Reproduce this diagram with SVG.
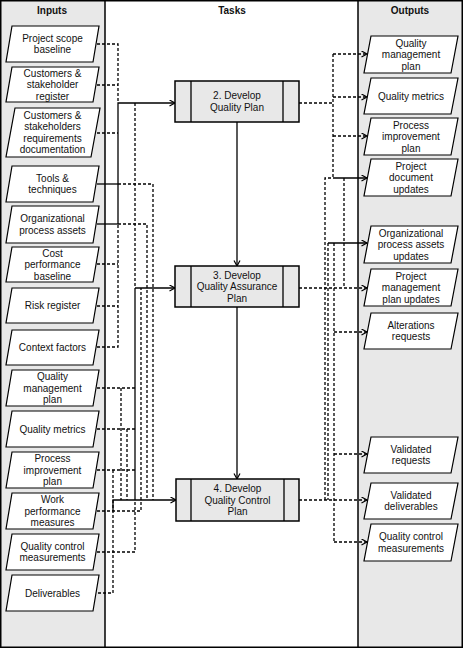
<svg xmlns="http://www.w3.org/2000/svg" width="463" height="648" viewBox="0 0 463 648">
<defs>
<style>
.lane{fill:#e8e8e8;stroke:none}
.sep{stroke:#000;stroke-width:1.5;fill:none}
.io{fill:#fff;stroke:#000;stroke-width:1.2}
.task{fill:#e8e8e8;stroke:#000;stroke-width:1.5}
.t{font-family:"Liberation Sans",Arial,sans-serif;font-size:10px;fill:#111;text-anchor:middle}
.h{font-family:"Liberation Sans",Arial,sans-serif;font-size:10px;font-weight:bold;fill:#111;text-anchor:middle}
.s{stroke:#000;stroke-width:1.3;fill:none}
.d{stroke:#000;stroke-width:1.3;fill:none;stroke-dasharray:3,2}
</style>
<marker id="arr" markerWidth="8" markerHeight="8" refX="6" refY="3.5" orient="auto" markerUnits="userSpaceOnUse">
<path d="M0.5,0.5 L6,3.5 L0.5,6.5" fill="none" stroke="#000" stroke-width="1.2"/>
</marker>
</defs>
<rect x="0" y="0" width="463" height="648" fill="#fff"/>
<rect class="lane" x="0" y="0" width="105" height="648"/>
<rect class="lane" x="358" y="0" width="105" height="648"/>
<rect x="0.75" y="0.75" width="461.5" height="646.5" class="sep"/>
<line class="sep" x1="105" y1="0" x2="105" y2="648"/>
<line class="sep" x1="358" y1="0" x2="358" y2="648"/>
<text class="h" x="52" y="14">Inputs</text>
<text class="h" x="232" y="14">Tasks</text>
<text class="h" x="410" y="14">Outputs</text>

<g id="connectors">
<!-- to task 2 -->
<path class="d" d="M97,44 H118 V103"/>
<path class="d" d="M97,85 H118"/>
<path class="d" d="M97,133 H118"/>
<path class="d" d="M97,264 H118"/>
<path class="d" d="M97,306 H118"/>
<path class="d" d="M97,347 H118 V224"/>
<path class="s" d="M97,184 H118"/>
<path class="s" d="M97,224 H118"/>
<path class="s" d="M118,224 V103 H175" marker-end="url(#arr)"/>
<!-- to task 3 / task 4 -->
<path class="d" d="M135,103 V288"/>
<path class="d" d="M118,184 H153 V500"/>
<path class="d" d="M118,224 H147 V500"/>
<path class="d" d="M97,388 H135"/>
<path class="d" d="M121,388 V500"/>
<path class="d" d="M97,429 H135"/>
<path class="d" d="M127,429 V500"/>
<path class="d" d="M97,470 H135"/>
<path class="d" d="M113,470 V593 H97"/>
<path class="d" d="M97,511 H141 V288"/>
<path class="d" d="M97,552 H135 V500"/>
<path class="s" d="M135,288 V500"/>
<path class="s" d="M135,288 H175" marker-end="url(#arr)"/>
<path class="s" d="M113,511 V500 H176" marker-end="url(#arr)"/>
<!-- vertical between tasks -->
<path class="s" d="M237,122 V266" marker-end="url(#arr)"/>
<path class="s" d="M237,307 V479" marker-end="url(#arr)"/>
<!-- outputs -->
<path class="d" d="M299,103 H333"/>
<path class="d" d="M333,54 V178"/>
<path class="d" d="M333,54 H367" marker-end="url(#arr)"/>
<path class="d" d="M333,97 H367" marker-end="url(#arr)"/>
<path class="d" d="M333,136 H367" marker-end="url(#arr)"/>
<path class="s" d="M333,178 H367" marker-end="url(#arr)"/>
<path class="d" d="M325,500 V178 H333"/>
<path class="d" d="M344,178 V288"/>
<path class="d" d="M299,288 H367" marker-end="url(#arr)"/>
<path class="s" d="M328,243 H367" marker-end="url(#arr)"/>
<path class="d" d="M328,243 V500"/>
<path class="d" d="M334,243 V542"/>
<path class="d" d="M334,332 H367" marker-end="url(#arr)"/>
<path class="d" d="M334,454 H367" marker-end="url(#arr)"/>
<path class="d" d="M299,500 H367" marker-end="url(#arr)"/>
<path class="d" d="M334,542 H367" marker-end="url(#arr)"/>
</g>

<!-- inputs -->
<g id="in-scope"><polygon class="io" points="12,26 99,26 93,62 6,62"/><text class="t" x="52.5" y="41.8">Project scope</text><text class="t" x="52.5" y="53.3">baseline</text></g>
<g id="in-register"><polygon class="io" points="12,67 99,67 93,102 6,102"/><text class="t" x="52.5" y="76.5">Customers &amp;</text><text class="t" x="52.5" y="88">stakeholder</text><text class="t" x="52.5" y="99.5">register</text></g>
<g id="in-requirements"><polygon class="io" points="15,108 100,108 91,157 6,157"/><text class="t" x="52.5" y="118.8">Customers &amp;</text><text class="t" x="52.5" y="130.3">stakeholders</text><text class="t" x="52.5" y="141.8">requirements</text><text class="t" x="52.5" y="153.3">documentation</text></g>
<g id="in-tools"><polygon class="io" points="12,166 99,166 93,202 6,202"/><text class="t" x="52.5" y="181.8">Tools &amp;</text><text class="t" x="52.5" y="193.3">techniques</text></g>
<g id="in-opa"><polygon class="io" points="12,206 99,206 93,243 6,243"/><text class="t" x="52.5" y="222.3">Organizational</text><text class="t" x="52.5" y="233.8">process assets</text></g>
<g id="in-cost"><polygon class="io" points="12,247 99,247 93,282 6,282"/><text class="t" x="52.5" y="256.5">Cost</text><text class="t" x="52.5" y="268">performance</text><text class="t" x="52.5" y="279.5">baseline</text></g>
<g id="in-risk"><polygon class="io" points="12,288 99,288 93,323 6,323"/><text class="t" x="52.5" y="309">Risk register</text></g>
<g id="in-context"><polygon class="io" points="12,330 99,330 93,365 6,365"/><text class="t" x="52.5" y="351">Context factors</text></g>
<g id="in-qmp"><polygon class="io" points="12,370 99,370 93,406 6,406"/><text class="t" x="52.5" y="380">Quality</text><text class="t" x="52.5" y="391.5">management</text><text class="t" x="52.5" y="403">plan</text></g>
<g id="in-qmetrics"><polygon class="io" points="12,411 99,411 93,447 6,447"/><text class="t" x="52.5" y="432.5">Quality metrics</text></g>
<g id="in-pip"><polygon class="io" points="12,452 99,452 93,488 6,488"/><text class="t" x="52.5" y="462">Process</text><text class="t" x="52.5" y="473.5">improvement</text><text class="t" x="52.5" y="485">plan</text></g>
<g id="in-wpm"><polygon class="io" points="12,493 99,493 93,529 6,529"/><text class="t" x="52.5" y="503">Work</text><text class="t" x="52.5" y="514.5">performance</text><text class="t" x="52.5" y="526">measures</text></g>
<g id="in-qcm"><polygon class="io" points="12,534 99,534 93,570 6,570"/><text class="t" x="52.5" y="549.8">Quality control</text><text class="t" x="52.5" y="561.3">measurements</text></g>
<g id="in-deliverables"><polygon class="io" points="12,575 99,575 93,611 6,611"/><text class="t" x="52.5" y="596.5">Deliverables</text></g>

<!-- tasks -->
<g id="task2"><rect class="task" x="175" y="81" width="124" height="41"/><line class="s" x1="191" y1="81" x2="191" y2="122"/><line class="s" x1="283" y1="81" x2="283" y2="122"/><text class="t" x="237" y="99.3">2. Develop</text><text class="t" x="237" y="110.8">Quality Plan</text></g>
<g id="task3"><rect class="task" x="175" y="266" width="124" height="41"/><line class="s" x1="191" y1="266" x2="191" y2="307"/><line class="s" x1="283" y1="266" x2="283" y2="307"/><text class="t" x="237" y="278.5">3. Develop</text><text class="t" x="237" y="290">Quality Assurance</text><text class="t" x="237" y="301.5">Plan</text></g>
<g id="task4"><rect class="task" x="176" y="479" width="123" height="42"/><line class="s" x1="191" y1="479" x2="191" y2="521"/><line class="s" x1="284" y1="479" x2="284" y2="521"/><text class="t" x="237.5" y="492">4. Develop</text><text class="t" x="237.5" y="503.5">Quality Control</text><text class="t" x="237.5" y="515">Plan</text></g>

<!-- outputs -->
<g id="out-qmp"><polygon class="io" points="371,36 458,36 451,73 364,73"/><text class="t" x="411" y="46.5">Quality</text><text class="t" x="411" y="58">management</text><text class="t" x="411" y="69.5">plan</text></g>
<g id="out-qmetrics"><polygon class="io" points="371,78 458,78 451,114 364,114"/><text class="t" x="411" y="99.5">Quality metrics</text></g>
<g id="out-pip"><polygon class="io" points="371,118 458,118 451,155 364,155"/><text class="t" x="411" y="128.5">Process</text><text class="t" x="411" y="140">improvement</text><text class="t" x="411" y="151.5">plan</text></g>
<g id="out-pdu"><polygon class="io" points="371,159 458,159 451,196 364,196"/><text class="t" x="411" y="169.5">Project</text><text class="t" x="411" y="181">document</text><text class="t" x="411" y="192.5">updates</text></g>
<g id="out-opau"><polygon class="io" points="371,226 458,226 451,263 364,263"/><text class="t" x="411" y="236.5">Organizational</text><text class="t" x="411" y="248">process assets</text><text class="t" x="411" y="259.5">updates</text></g>
<g id="out-pmpu"><polygon class="io" points="371,269 458,269 451,306 364,306"/><text class="t" x="411" y="279.5">Project</text><text class="t" x="411" y="291">management</text><text class="t" x="411" y="302.5">plan updates</text></g>
<g id="out-alter"><polygon class="io" points="371,313 458,313 451,349 364,349"/><text class="t" x="411" y="328.8">Alterations</text><text class="t" x="411" y="340.3">requests</text></g>
<g id="out-vreq"><polygon class="io" points="371,437 458,437 451,473 364,473"/><text class="t" x="411" y="452.8">Validated</text><text class="t" x="411" y="464.3">requests</text></g>
<g id="out-vdel"><polygon class="io" points="371,483 458,483 451,519 364,519"/><text class="t" x="411" y="498.8">Validated</text><text class="t" x="411" y="510.3">deliverables</text></g>
<g id="out-qcm"><polygon class="io" points="371,524 458,524 451,561 364,561"/><text class="t" x="411" y="540.3">Quality control</text><text class="t" x="411" y="551.8">measurements</text></g>
</svg>
